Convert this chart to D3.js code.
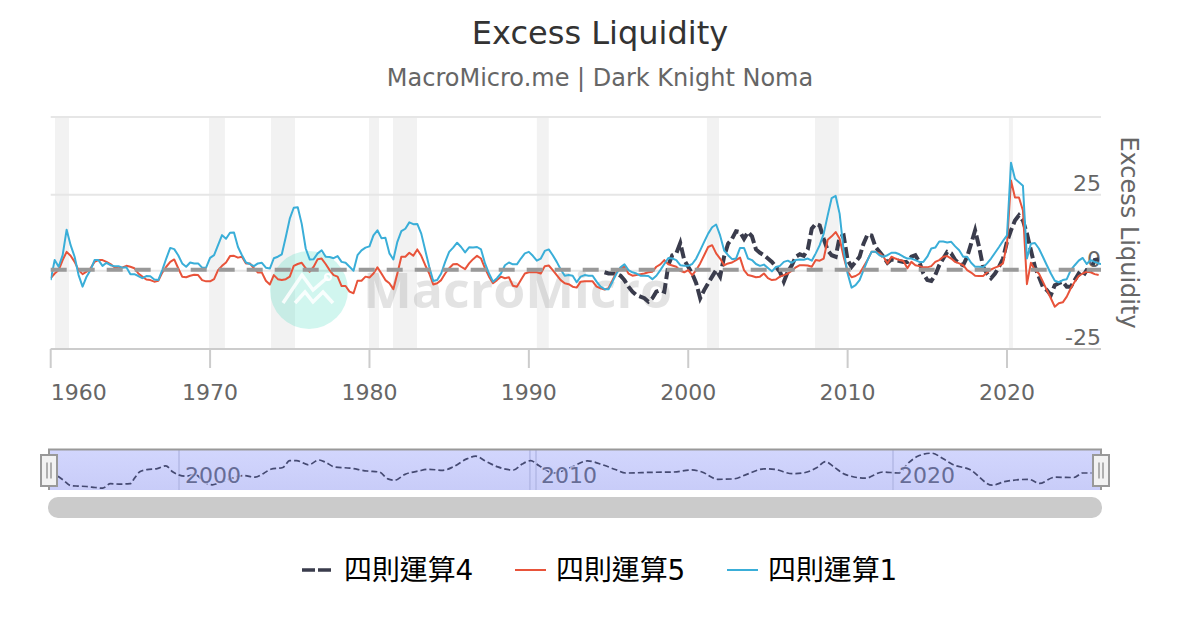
<!DOCTYPE html>
<html>
<head>
<meta charset="utf-8">
<script src="https://cdn.jsdelivr.net/npm/d3@7"></script>
<style>
html,body{margin:0;padding:0;background:#fff;}
svg{display:block;font-family:"DejaVu Sans",sans-serif;}
</style>
</head>
<body>
<svg id="chart" width="1200" height="630"></svg>
<script>
const chartTitle = "Excess Liquidity";
const chartSubtitle = "MacroMicro.me | Dark Knight Noma";
const seriesNames = ["四則運算4", "四則運算5", "四則運算1"];
const xTicks = [1960, 1970, 1980, 1990, 2000, 2010, 2020];
const yTicks = [-25, 0, 25, 50];
const yLabels = [-25, 0, 25];
const navTicks = [2000, 2010, 2020];
const navGridYears = [2000, 2009.83, 2010, 2020];

// Shaded recession spans, in decimal years
const recessions = [
  [1960.27,1961.15],[1969.93,1970.93],[1973.82,1975.33],[1979.97,1980.6],[1981.48,1982.98],
  [1990.5,1991.25],[2001.17,2001.93],[2007.95,2009.45],[2020.12,2020.37]
];

// Quarterly readings, first value at the start of 1960
const series1 = [
  -3.0,3.5,1.3,5.1,13.5,8.4,4.6,-1.4,-5.1,-1.9,
  0.2,3.5,3.5,1.6,2.6,1.8,1.5,1.5,1.0,1.1,
  -1.1,-1.1,-1.7,-2.4,-1.7,-1.8,-2.8,-3.0,0.2,4.0,
  7.5,7.1,5.1,2.4,1.3,2.7,2.4,2.4,1.0,1.0,
  4.2,5.1,8.4,11.7,10.5,12.5,12.6,7.8,5.1,2.7,
  2.2,1.5,2.4,2.6,1.0,0.7,4.1,4.6,5.4,11.1,
  17.1,20.7,20.9,15.4,7.3,3.7,3.8,5.7,6.7,4.6,
  4.5,4.1,4.8,2.9,2.6,1.3,0,5.1,6.7,7.6,
  8.0,11.6,13.3,10.7,10.8,5.7,3.7,9.5,13.0,
  13.8,15.9,15.3,15.4,12.2,6.7,1.3,-3.3,-3.0,-0.9,2.9,
  6.2,7.6,9.2,7.8,6.0,7.7,7.6,7.8,7.0,2.4,
  -0.9,-3.5,-2.4,-0.9,1.8,2.7,2.1,2.1,4.0,5.7,
  6.2,4.9,3.3,4.0,6.5,7.0,5.1,2.9,0.4,-1.6,
  -1.4,-1.6,-3.7,-1.9,-1.4,-1.6,-1.6,-3.5,-5.1,-5.9,
  -5.9,-3.5,-0.9,1.1,2.1,0.2,-0.5,-0.9,-1.6,-1.6,
  -1.7,-2.7,-1.6,0.2,2.2,4.2,4.0,3.5,1.8,1.6,
  1.6,2.2,4.0,6.7,9.5,12.2,14.3,15.2,11.6,6.7,
  5.1,3.8,4.0,7.5,7.5,4.0,
  3.5,2.2,1.6,2.0,0.9,-0.2,1.2,1.6,2.9,3.3,
  2.6,3.5,3.7,3.6,4.0,3.3,5.7,8.4,12.2,18.2,
  23.9,24.6,18.7,6.7,-0.9,-5.4,-4.6,-3.0,0.2,3.5,
  6.2,6.2,5.1,4.6,5.1,5.9,5.9,5.4,4.6,4.0,
  4.0,3.5,2.9,2.9,4.6,7.3,7.6,9.6,9.6,9.3,
  9.5,8.0,6.7,4.6,4.6,2.6,1.3,1.3,1.1,2.4,
  4.0,5.9,7.8,9.8,11.6,35.3,30.1,29.0,27.9,4.0,
  8.9,9.1,7.3,4.6,1.8,-0.9,-3.2,-3.7,-3.0,-2.7,
  0.2,1.8,3.3,4.2,2.2,3.5,2.9,2.4,2.1
];

const series5 = [
  -2.4,-0.9,0.2,3.5,6.2,4.9,2.9,0.2,-1.1,-0.3,
  0.8,2.9,3.5,3.5,2.9,2.2,1.1,0.8,1.1,1.6,
  1.3,0.8,-0.9,-1.9,-2.8,-3.0,-3.5,-3.2,-0.6,1.3,
  2.9,3.7,0.8,-1.9,-2.1,-1.6,-1.3,-1.4,-3.0,-3.4,
  -3.4,-2.7,0.2,1.6,2.7,4.8,4.9,4.3,4.6,2.4,
  2.4,0.8,-0.6,-0.6,-3.2,-4.4,-1.4,-2.7,-3.0,-2.7,
  -1.9,1.6,2.2,2.6,0.8,-0.3,1.3,3.8,4.0,2.2,
  0.2,-1.4,-1.9,-4.9,-4.9,-6.7,-7.2,-3.2,-3.2,-1.9,
  -2.2,-0.9,1.1,-0.9,-3.0,-4.0,-5.9,-0.9,4.6,
  4.6,5.9,4.9,7.0,4.9,1.8,-0.9,-4.4,-4.0,-3.0,-0.9,
  0.8,2.1,2.2,1.3,0.5,2.4,3.8,4.9,4.0,0.8,
  -1.9,-4.0,-3.0,-1.9,-2.4,-2.1,-4.8,-5.1,-3.0,-0.9,
  -0.5,-0.5,-0.5,-0.9,1.5,1.7,0.2,-1.4,-3.0,-4.0,
  -4.3,-5.1,-5.4,-3.5,-3.4,-3.4,-3.4,-5.1,-5.6,-6.0,
  -5.6,-3.0,-0.5,0.8,1.3,-0.9,-1.6,-1.4,-1.1,-0.9,
  -0.5,-0.3,1.3,2.1,3.5,2.1,1.7,1.3,0,-0.5,
  0.2,-1.4,0.2,2.4,5.1,7.8,8.4,5.7,4.0,1.8,
  2.4,2.7,3.5,4.3,0.2,-1.4,
  -1.7,-2.1,-1.9,-0.9,-2.4,-3.0,-2.8,-1.9,-1.4,-0.9,
  0,1.1,1.8,1.8,1.7,1.3,3.5,3.3,4.0,10.2,
  11.3,12.7,10.5,4.6,-0.3,-2.1,-1.7,-0.9,1.3,3.5,
  6.2,6.2,5.7,4.6,2.4,4.6,4.0,3.5,3.2,0.8,
  2.9,1.8,1.5,1.1,1.1,1.5,2.9,3.5,4.6,4.8,
  4.0,2.9,2.4,1.8,0.2,-0.6,-1.6,-1.7,-1.7,-0.6,
  0.4,1.0,1.5,2.4,8.9,29.6,24.1,24.1,19.8,-4.3,
  2.6,0.2,-0.9,-3.5,-6.2,-8.8,-11.5,-10.4,-10.1,-8.3,
  -5.6,-3.5,-1.7,-0.9,-0.3,-0.5,-1.1,-1.4
];

// This series only begins in late 1994
const series4Start = 1994.75;
const series4 = [
  -0.5,-0.9,-0.9,-0.9,-1.6,-3.0,-5.1,-6.7,-7.8,-8.3,-8.8,-9.9,-8.8,-6.7,-6.2,-6.7,
  1.8,5.1,5.7,9.1,3.5,1.3,-0.9,-4.0,-8.8,-6.2,-4.0,-1.9,0.2,-1.9,4.6,8.9,10.5,13.0,12.7,10.5,12.7,
  11.3,7.0,5.9,5.1,4.0,2.9,1.3,-0.3,-3.5,-0.3,1.8,4.6,5.4,4.9,7.0,13.8,15.4,14.9,10.5,6.7,5.1,4.6,
  11.1,11.6,3.5,1.3,2.9,4.6,8.9,11.9,11.6,7.8,6.2,4.6,2.6,3.7,3.5,3.2,2.9,2.9,4.6,5.1,2.9,-0.9,
  -3.0,-3.3,-1.4,1.8,4.0,6.2,5.7,3.5,2.4,1.8,4.6,8.9,13.3,7.8,1.3,-0.9,-2.4,-0.9,1.3,4.0,9.5,
  13.3,16.5,18.2,16.5,12.2,6.7,1.3,-1.9,-5.1,-6.2,-7.8,-4.6,-4.0,-3.5,-5.1,-5.1,-3.0,-0.9,-1.9,
  0.2,0.2,3.5,3.8
];

// Overview strip beneath the plot: decimal years and the matching readings
const navYears = [
  1996.61,1996.78,1996.96,1997.17,1997.41,1997.65,1997.86,1998.08,1998.32,1998.63,1998.76,1998.9,
  1999.1,1999.39,1999.63,1999.82,2000.01,2000.2,2000.45,2000.74,2000.93,2001.12,2001.51,2001.8,
  2002.13,2002.37,2002.57,2002.91,2003.1,2003.29,2003.63,2003.92,2004.11,2004.35,2004.79,2005.27,
  2005.61,2005.85,2006.04,2006.33,2006.71,2007.0,2007.39,2007.68,2008.06,2008.31,2008.6,2008.93,
  2009.37,2009.61,2009.85,2010.09,2010.5,2011.0,2011.44,2011.88,2012.22,2012.51,2013.29,2013.87,
  2014.36,2014.65,2015.09,2015.53,2015.92,2016.4,2016.7,2017.18,2017.47,2017.86,2018.11,2018.35,
  2018.64,2019.23,2019.71,2020.15,2020.44,2020.69,2021.08,2021.42,2021.66,2022.15,2022.78,2023.12,
  2023.8,2024.1,2024.53,2025.07,2025.31,2025.56
];
const navValues = [
  -5.2,-9.6,-14.5,-15.1,-15.5,-16.5,-17.2,-12.7,-13.1,-12.7,-6.9,-0.7,
  1.4,2.4,5.2,-0.7,-4.1,-5.2,-3.4,-12,-13.8,-12,-6.9,-4.5,
  -6.2,-2.4,1.7,3.5,10.3,10.3,6.2,11,8.6,4.1,2.8,0,
  -1,-7.9,-9.3,-3.4,0,1.7,0.7,4.1,12.1,14.8,9.6,4.1,
  1,6.9,10.3,5.2,-2,4,10.1,6,1.5,-2,-1.3,-1,
  1.1,-1,-8.3,-7.9,-3.1,2.2,1.5,-2.7,-2,3.2,9.4,3.9,
  -3.1,-7.2,-1,-2,8.4,14.7,17.8,11.9,6.7,1.5,-14.2,-10.7,
  -8.3,-12.4,-6.2,-6.5,-2,-2
];

const colors = { s4: "#3a3c4c", s5: "#e8533a", s1: "#3aaed8" };
const plotLeft = 50.7, plotRight = 1101, plotTop = 117, plotBottom = 349;

const quarter = i => 1960 + i / 4;
const svg = d3.select("#chart");

const x = d3.scaleLinear().domain([1960, 2020]).range([plotLeft, 1007]);
// The axis is laid out with slightly uneven pixel spacing between its gridlines
const y = d3.scaleLinear().domain([-25, 0, 25, 50]).range([plotBottom, 270.7, 194.7, plotTop]);

const defs = svg.append("defs");
defs.append("clipPath").attr("id", "plot").append("rect")
  .attr("x", plotLeft).attr("y", plotTop - 5).attr("width", plotRight - plotLeft).attr("height", plotBottom - plotTop + 10);
const navGrad = defs.append("linearGradient").attr("id", "navFill")
  .attr("x1", 0).attr("x2", 0).attr("y1", 0).attr("y2", 1);
navGrad.append("stop").attr("offset", 0).attr("stop-color", "#d2d6fd");
navGrad.append("stop").attr("offset", 1).attr("stop-color", "#c8ccf8");

// Titles
svg.append("text").attr("x", 600).attr("y", 44).attr("text-anchor", "middle")
  .attr("font-size", 32).attr("fill", "#333").text(chartTitle);
svg.append("text").attr("x", 600).attr("y", 86).attr("text-anchor", "middle")
  .attr("font-size", 24).attr("fill", "#666").text(chartSubtitle);

// Recession shading
svg.append("g").selectAll("rect").data(recessions).join("rect")
  .attr("x", d => x(d[0])).attr("width", d => x(d[1]) - x(d[0]))
  .attr("y", plotTop).attr("height", plotBottom - plotTop).attr("fill", "#f2f2f2");

// Horizontal grid
const yAxis = d3.axisRight(y).offset(0).tickValues(yTicks).tickSize(plotRight - plotLeft).tickFormat("");
const yGrid = svg.append("g").attr("transform", `translate(${plotLeft},0)`).call(yAxis);
yGrid.select(".domain").remove();
yGrid.selectAll("line").attr("stroke", "#e6e6e6").attr("stroke-width", 2);

// Brand mark behind the data
const mark = svg.append("g").attr("transform", "translate(309,290)");
mark.append("circle").attr("r", 39).attr("fill", "#2fd6b8").attr("fill-opacity", 0.22);
const markLine = d3.line();
mark.append("path").attr("d", markLine([[-26,13],[-7,-15],[4,0],[19,-13]]))
  .attr("fill", "none").attr("stroke", "#fff").attr("stroke-width", 3.5).attr("stroke-opacity", 0.85);
mark.append("path").attr("d", markLine([[-14,13],[-4,2],[4,12],[14,2],[24,13]]))
  .attr("fill", "none").attr("stroke", "#fff").attr("stroke-width", 3.5).attr("stroke-opacity", 0.85);
mark.append("circle").attr("cx", 19).attr("cy", -13).attr("r", 3)
  .attr("fill", "none").attr("stroke", "#fff").attr("stroke-width", 2);
svg.append("text").attr("x", 363).attr("y", 308).attr("font-size", 49)
  .attr("font-family", "'Open Sans',sans-serif").attr("font-weight", 700)
  .attr("textLength", 309).attr("lengthAdjust", "spacingAndGlyphs")
  .attr("fill", "#8f8f8f").attr("fill-opacity", 0.25).text("MacroMicro");

// X axis
const xAxis = d3.axisBottom(x).offset(0).tickValues(xTicks).tickFormat(d3.format("d")).tickSize(19).tickPadding(16);
const xg = svg.append("g").attr("transform", `translate(0,${plotBottom})`).call(xAxis);
xg.select(".domain").attr("d", `M${plotLeft},0H${plotRight}`).attr("stroke", "#ccc").attr("stroke-width", 2);
xg.selectAll(".tick line").attr("stroke", "#ccc").attr("stroke-width", 2);
xg.selectAll(".tick text").attr("font-size", 22).attr("fill", "#666")
  .attr("font-family", "'DejaVu Sans',sans-serif")
  .attr("text-anchor", d => d === 1960 ? "start" : "middle")
  .attr("dy", "0.72em");

// Y axis labels sit just above their gridlines, inside the right edge
svg.append("g").selectAll("text").data(yLabels).join("text")
  .attr("x", plotRight).attr("y", d => y(d) - 4).attr("text-anchor", "end")
  .attr("font-size", 22).attr("fill", "#666").text(d => d);
svg.append("text").attr("transform", "translate(1121,232.5) rotate(90)")
  .attr("text-anchor", "middle").attr("font-size", 24).attr("fill", "#666").text(chartTitle);

// Data lines
const line = d3.line().x(d => x(d.t)).y(d => y(d.v));
const plot = svg.append("g").attr("clip-path", "url(#plot)").attr("fill", "none");
plot.append("path").attr("d", line(series4.map((v, i) => ({ t: series4Start + i / 4, v }))))
  .attr("stroke", colors.s4).attr("stroke-width", 4).attr("stroke-dasharray", "11,4")
  .attr("stroke-linejoin", "miter").attr("stroke-miterlimit", 10);
plot.append("path").attr("d", line(series5.map((v, i) => ({ t: quarter(i), v }))))
  .attr("stroke", colors.s5).attr("stroke-width", 2).attr("stroke-linejoin", "round");
plot.append("path").attr("d", line(series1.map((v, i) => ({ t: quarter(i), v }))))
  .attr("stroke", colors.s1).attr("stroke-width", 2).attr("stroke-linejoin", "round");

// Dashed zero reference on top of the lines
svg.append("line").attr("x1", plotLeft).attr("x2", plotRight)
  .attr("y1", y(0) - 1).attr("y2", y(0) - 1)
  .attr("stroke", "#999").attr("stroke-width", 4).attr("stroke-dasharray", "16,12");

// Range selector strip
const navX = d3.scaleLinear().domain([2000, 2020]).range([179, 893]);
const navY = d3.scaleLinear().domain([-16, 20]).range([487, 451]);
const nav = svg.append("g");
const navL = 49, navR = 1101, navT = 449.5, navB = 490;
nav.append("rect").attr("x", navL).attr("y", navT).attr("width", navR - navL).attr("height", navB - navT)
  .attr("fill", "url(#navFill)");
nav.selectAll("line.grid").data(navGridYears).join("line").attr("class", "grid")
  .attr("x1", d => navX(d)).attr("x2", d => navX(d)).attr("y1", navT).attr("y2", navB)
  .attr("stroke", "#b3b8e6").attr("stroke-width", 1.5);
nav.append("path")
  .attr("d", d3.line().x((d, i) => navX(navYears[i])).y(d => navY(d)).curve(d3.curveMonotoneX)(navValues))
  .attr("fill", "none").attr("stroke", "#454a72").attr("stroke-width", 1.7).attr("stroke-dasharray", "6,3");
nav.selectAll("text.tick").data(navTicks).join("text").attr("class", "tick")
  .attr("x", d => navX(d) + (d === 2010 ? 5 : 6)).attr("y", 483).attr("font-size", 22)
  .attr("fill", "#666c96").attr("stroke", "#cdd1fa").attr("stroke-opacity", 0.75).attr("stroke-width", 3)
  .attr("paint-order", "stroke").text(d => d);
nav.append("path").attr("d", `M${navL},${navB}V${navT}H${navR}V${navB}`)
  .attr("fill", "none").attr("stroke", "#999").attr("stroke-width", 2);

// Drag handles on each end of the strip
[49, 1101].forEach(cx => {
  const h = nav.append("g").attr("transform", `translate(${cx},470.5)`);
  h.append("rect").attr("x", -8).attr("y", -15.5).attr("width", 16).attr("height", 31)
    .attr("fill", "#f2f2f2").attr("stroke", "#999").attr("stroke-width", 2);
  [-2, 2].forEach(dx => h.append("line").attr("x1", dx).attr("x2", dx).attr("y1", -8).attr("y2", 8)
    .attr("stroke", "#999").attr("stroke-width", 1.5));
});

// Scrollbar track
svg.append("rect").attr("x", 48).attr("y", 497).attr("width", 1054).attr("height", 21).attr("rx", 10)
  .attr("fill", "#cbcbcb");

// Legend
const legendItems = [
  { name: seriesNames[0], color: colors.s4, x1: 302, x2: 331, tx: 344, dash: "13,3", w: 3.5 },
  { name: seriesNames[1], color: colors.s5, x1: 515, x2: 546, tx: 556, dash: null, w: 2 },
  { name: seriesNames[2], color: colors.s1, x1: 727, x2: 758, tx: 768, dash: null, w: 2 }
];
const lg = svg.append("g").selectAll("g").data(legendItems).join("g");
lg.append("line").attr("x1", d => d.x1).attr("x2", d => d.x2).attr("y1", 570).attr("y2", 570)
  .attr("stroke", d => d.color).attr("stroke-width", d => d.w).attr("stroke-dasharray", d => d.dash);
lg.append("text").attr("x", d => d.tx).attr("y", 580).attr("font-size", 27.9)
  .attr("font-family", "'DejaVu Sans','Noto Sans CJK TC',sans-serif").attr("fill", "#000").text(d => d.name);
</script>
</body>
</html>
